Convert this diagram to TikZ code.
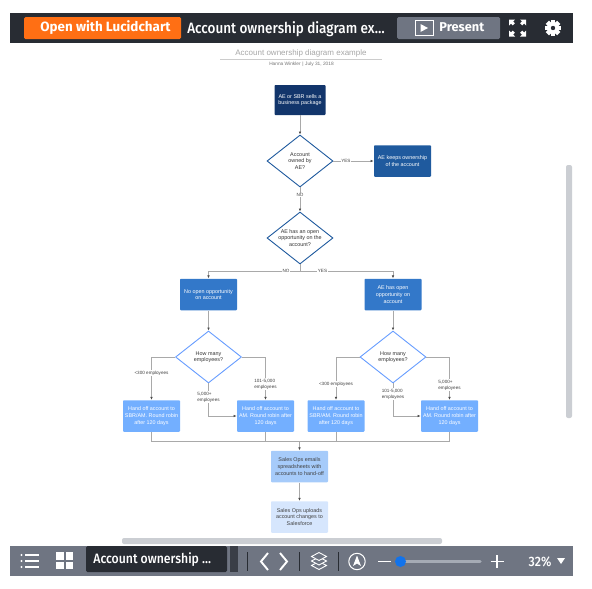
\documentclass[tikz,border=0pt]{standalone}
\usepackage{fontspec}
\setmainfont{Liberation Sans}
\newfontfamily\uifont{Fira Sans}
\newfontfamily\uimedium[FakeStretch=0.9]{Fira Sans Medium}
\usetikzlibrary{shapes.geometric,arrows.meta}
\definecolor{barDark}{HTML}{282C33}
\definecolor{barGray}{HTML}{6F7582}
\definecolor{btnOrange}{HTML}{FF6F14}
\definecolor{boxNavy}{HTML}{12356B}
\definecolor{boxBlue}{HTML}{1F5A9E}
\definecolor{boxMid}{HTML}{3378C9}
\definecolor{boxLeaf}{HTML}{73AFFF}
\definecolor{boxPale}{HTML}{A6CBFA}
\definecolor{boxFaint}{HTML}{D6E6FD}
\definecolor{wireGray}{HTML}{A9A9A9}
\definecolor{scrollGray}{HTML}{CBCED3}
\definecolor{sliderGray}{HTML}{A5ABB5}
\definecolor{sliderBlue}{HTML}{1273EB}

\begin{document}
\begin{tikzpicture}[x=1pt,y=-1pt,line width=0.75pt,
  box/.style={rectangle,rounded corners=0.8pt,minimum width=57pt,minimum height=31.5pt,
    inner sep=0pt,align=center,font=\fontsize{5.4}{6.6}\selectfont},
  darkbox/.style={box,text=white},
  lightbox/.style={box,text=black!75},
  choice/.style={diamond,draw,fill=white,line width=0.9pt,minimum width=66pt,minimum height=52pt,
    aspect=1.27,inner sep=0pt,align=center,font=\fontsize{5.4}{6.6}\selectfont,text=black!80},
  wire/.style={draw=wireGray,line width=0.7pt},
  arrow/.style={wire,-{Latex[length=3pt,width=2.6pt,black!70]}},
  tag/.style={font=\fontsize{4.6}{6}\selectfont,text=black!75,align=left,inner sep=0.6pt},
  yesno/.style={tag,fill=white},
  uitext/.style={font=\uifont,text=white,inner sep=0pt},
  icon/.style={draw=white,line width=1.2pt}]
  \useasboundingbox (0,0) rectangle (592,589);

  % top bar
  \fill[barDark] (10,13) rectangle (573,43);
  \fill[btnOrange,rounded corners=1.5pt] (24,17) rectangle (181,39);
  \fill[barGray,rounded corners=1.5pt] (397,17) rectangle (500,39);
  \node[uitext,font=\uifont\bfseries\fontsize{13.4}{15}\selectfont] (openBtn) at (105.5,27.5) {Open with Lucidchart};
  \node[uitext,anchor=west,font=\uimedium\fontsize{15}{17}\selectfont] (docTitle) at (187,29) {Account ownership diagram ex\ldots};
  \draw[white,line width=0.9pt] (415,20.5) rectangle (433,35.5);
  \fill[white] (420.5,24) -- (428,28) -- (420.5,32) -- cycle;
  \node[uitext,anchor=west,font=\uifont\bfseries\fontsize{12.8}{14}\selectfont] (presentBtn) at (439,27.5) {Present};
  \foreach \sx/\sy in {-1/-1,1/-1,-1/1,1/1}
    \fill[white,shift={(517.5,28)},xscale=\sx,yscale=\sy] (8.5,8.5) -- (2.5,8.5) -- (4.4,6.6) -- (2.6,4.8)
      -- (4.8,2.6) -- (6.6,4.4) -- (8.5,2.5) -- cycle;
  \foreach \a in {0,45,...,315}
    \fill[white,shift={(553,28)},rotate=\a] (-2.3,-3) rectangle (2.3,-8);
  \fill[white] (553,28) circle[radius=6];
  \fill[barDark] (553,28) circle[radius=2.2];

  % sheet heading
  \node[font=\fontsize{8}{9}\selectfont,text=black!35,inner sep=0pt] (sheetTitle) at (301,53) {Account ownership diagram example};
  \draw[black!20] (220,59.5) -- (382,59.5);
  \node[font=\fontsize{4.8}{5}\selectfont,text=black!55,inner sep=0pt] (sheetBy) at (301.5,64) {Hanna Winkler\,\,|\,\,July 31, 2018};

  % flow nodes
  \node[darkbox,fill=boxNavy,minimum width=51pt,minimum height=30pt] (sells) at (300,100) {AE or SBR sells a\\business package};
  \node[choice,draw=boxBlue] (owned) at (300,161) {Account\\owned by\\AE?};
  \node[darkbox,fill=boxBlue] (keeps) at (402.5,161) {AE keeps ownership\\of the account};
  \node[choice,draw=boxBlue] (hasOpp) at (300,238) {AE has an open\\opportunity on the\\account?};
  \node[darkbox,fill=boxMid] (noOpen) at (208.5,294.5) {No open opportunity\\on account};
  \node[darkbox,fill=boxMid] (yesOpen) at (393,294.5) {AE has open\\opportunity on\\account};
  \node[choice,draw=boxLeaf!90!blue] (sizeL) at (208.5,357) {How many\\employees?};
  \node[choice,draw=boxLeaf!90!blue] (sizeR) at (393,357) {How many\\employees?};
  \node[darkbox,fill=boxLeaf] (leafA) at (151.5,416) {Hand off account to\\SBR/AM. Round robin\\after 120 days};
  \node[darkbox,fill=boxLeaf] (leafB) at (265.5,416) {Hand off account to\\AM. Round robin after\\120 days};
  \node[darkbox,fill=boxLeaf] (leafC) at (336,416) {Hand off account to\\SBR/AM. Round robin\\after 120 days};
  \node[darkbox,fill=boxLeaf] (leafD) at (449.5,416) {Hand off account to\\AM. Round robin after\\120 days};
  \node[lightbox,fill=boxPale] (emails) at (299.5,466.5) {Sales Ops emails\\spreadsheets with\\accounts to hand-off};
  \node[lightbox,fill=boxFaint] (uploads) at (299.5,517) {Sales Ops uploads\\account changes to\\Salesforce};

  \coordinate (splitOpp) at (300,271);
  \coordinate (busIn) at (299.5,441);

  % connectors
  \draw[arrow] (sells) -- (owned);
  \draw[arrow] (owned) -- (hasOpp) node[pos=0.32,yesno] (tagNoA) {NO};
  \draw[arrow] (owned) -- (keeps) node[pos=0.31,yesno] (tagYesA) {YES};
  \draw[wire] (hasOpp) -- (splitOpp);
  \draw[arrow] (splitOpp) -| (noOpen.north);
  \draw[arrow] (splitOpp) -| (yesOpen.north);
  \node[yesno] (tagNoB) at (286,271) {NO};
  \node[yesno] (tagYesB) at (322.5,271) {YES};
  \draw[arrow] (noOpen) -- (sizeL);
  \draw[arrow] (yesOpen) -- (sizeR);
  \foreach \from/\to in {sizeL/leafA,sizeL/leafB,sizeR/leafC,sizeR/leafD}
    \draw[arrow] (\from) -| (\to.north);
  \draw[arrow] (sizeL.south) |- (leafB.west);
  \draw[arrow] (sizeR.south) |- (leafD.west);
  \foreach \leaf in {leafA,leafB,leafC,leafD}
    \draw[wire] (\leaf.south) |- (busIn);
  \draw[arrow] (busIn) -- (emails);
  \draw[arrow] (emails) -- (uploads);

  % size labels
  \node[tag,fill=white] (tagA) at (151.5,373) {<300 employees};
  \node[tag,fill=white] (tagB) at (265.5,384) {101-5,000\\employees};
  \node[tag,fill=white] (tagC) at (208.5,397) {5,000+\\employees};
  \node[tag,fill=white] (tagD) at (336,384) {<300 employees};
  \node[tag,fill=white] (tagE) at (393,394) {101-5,000\\employees};
  \node[tag,fill=white] (tagF) at (449.5,385) {5,000+\\employees};

  % scroll bars
  \fill[scrollGray,rounded corners=2pt] (566,165) rectangle (572,418);
  \fill[scrollGray,rounded corners=2pt] (122,538) rectangle (442,544);

  % bottom bar
  \fill[barGray] (10,546) rectangle (573,576);
  \fill[barDark!75!barGray] (230,546) rectangle (238,572);
  \fill[barDark,rounded corners=1.5pt] (86,546) rectangle (227,572);
  \node[uitext,anchor=west,font=\uimedium\fontsize{13.6}{15}\selectfont] (pageTab) at (93,559.5) {Account ownership \ldots};
  \foreach \y in {555,561,567} {
    \draw[icon,line width=1.9pt] (25,\y) -- (39,\y);
    \fill[white] (21.5,\y) circle[radius=1.2];
  }
  \foreach \x/\y in {56/552,65.5/552,56/561.5,65.5/561.5}
    \fill[white] (\x,\y) rectangle ++(7.8,7.8);
  \foreach \x in {247,299,338}
    \draw[barDark,line width=0.8pt] (\x,552) -- (\x,571);
  \draw[icon,line width=1.9pt] (268,553) -- (261,561.5) -- (268,570);
  \draw[icon,line width=1.9pt] (280,553) -- (287,561.5) -- (280,570);
  \foreach \y in {565.5,561,556.5}
    \draw[icon,line width=0.9pt,fill=barGray] (319,\y-4) -- (326.5,\y) -- (319,\y+4) -- (311.5,\y) -- cycle;
  \draw[icon,line width=1pt] (357,561.5) circle[radius=8.2];
  \fill[white] (357,555.5) -- (361,566) -- (357,563.5) -- (353,566) -- cycle;
  \draw[icon,line width=1.8pt] (378,561.5) -- (391,561.5);
  \draw[line width=3.5pt,line cap=round,draw=sliderGray] (403,561.5) -- (480,561.5);
  \fill[sliderBlue] (400.5,561.5) circle[radius=5.5];
  \draw[icon,line width=1.8pt] (490.5,561.5) -- (504,561.5) (497.2,555) -- (497.2,568);
  \node[uitext,font=\uimedium\fontsize{13.6}{15}\selectfont] (zoomPct) at (540,562) {32\%};
  \fill[white] (557,558) -- (565,558) -- (561,564) -- cycle;
\end{tikzpicture}
\end{document}
